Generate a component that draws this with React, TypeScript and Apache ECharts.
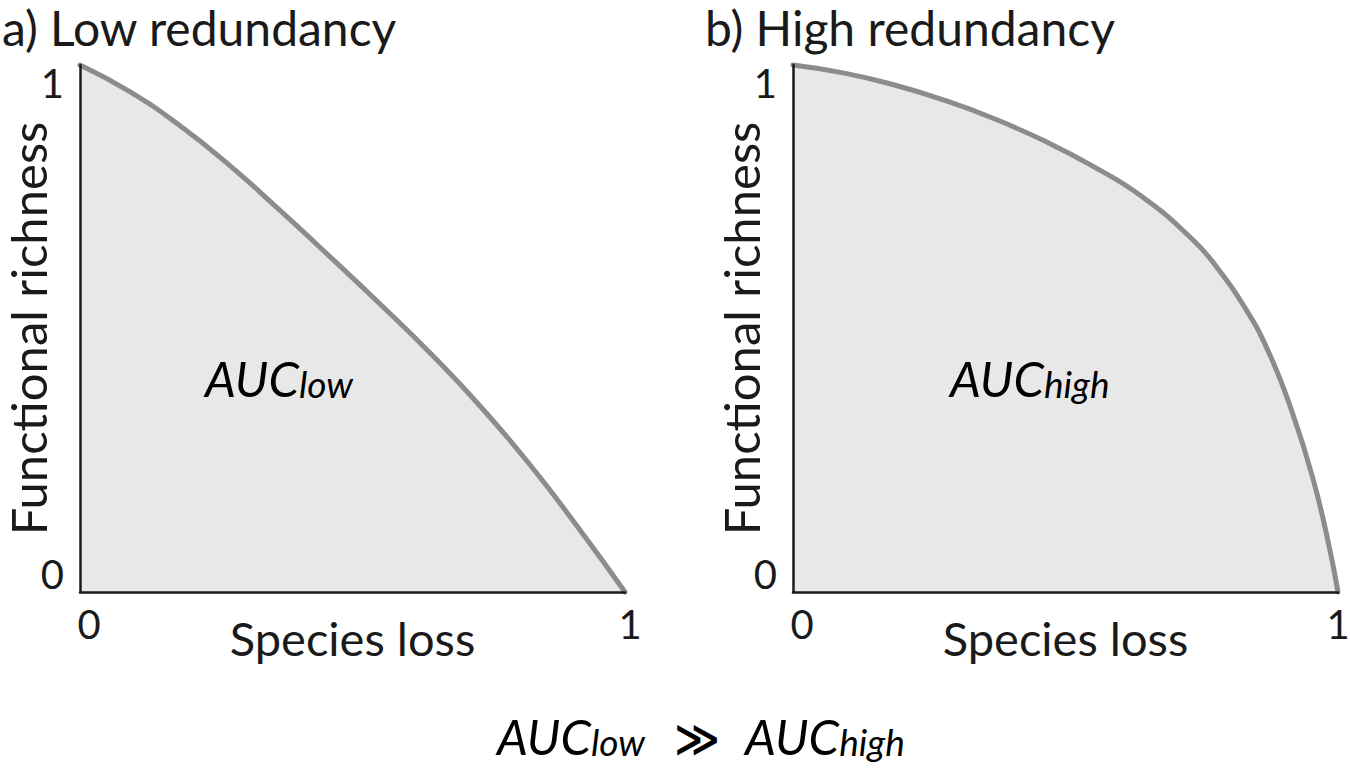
import React, { useEffect, useRef } from "react";
import * as echarts from "echarts";

const lowX = [0, 0.092, 0.183, 0.275, 0.367, 0.459, 0.55, 0.642, 0.734, 0.826, 0.917, 1];
const lowY = [1, 0.949, 0.885, 0.809, 0.724, 0.636, 0.547, 0.454, 0.353, 0.241, 0.118, 0];
const highX = [0, 0.092, 0.183, 0.275, 0.367, 0.459, 0.55, 0.642, 0.734, 0.78, 0.826, 0.872, 0.917, 0.954, 0.982, 1];
const highY = [1, 0.985, 0.963, 0.934, 0.899, 0.857, 0.808, 0.749, 0.668, 0.613, 0.545, 0.457, 0.338, 0.215, 0.095, 0];
const xTicks = ["0", "1"];
const yTicks = ["0", "1"];
const titles = ["a) Low redundancy", "b) High redundancy"];
const xName = "Species loss";
const yName = "Functional richness";
const aucLabels = ["low", "high"];

const FONT = "Lato, 'Open Sans', sans-serif";
const INK = "#1a1a1a";

export default function App() {
  const ref = useRef<HTMLDivElement>(null);
  useEffect(() => {
    if (!ref.current) return;
    const chart = echarts.init(ref.current, undefined, { renderer: "svg" });
    const grids = [
      { left: 80, top: 65, width: 545, height: 527, containLabel: false, outerBoundsMode: "none" },
      { left: 793, top: 65, width: 545, height: 527, containLabel: false, outerBoundsMode: "none" },
    ];
    const xAxes = grids.map((_, i) => ({
      type: "value",
      gridIndex: i,
      min: 0,
      max: 1,
      interval: 1,
      z: 5,
      name: xName,
      nameLocation: "middle",
      nameGap: 22,
      nameMoveOverlap: false,
      nameTextStyle: { fontFamily: FONT, fontSize: 47, color: INK, verticalAlign: "top" },
      axisLine: { show: true, lineStyle: { color: INK, width: 2.5 } },
      axisTick: { show: false },
      splitLine: { show: false },
      axisLabel: {
        fontFamily: FONT,
        fontSize: 40,
        color: INK,
        margin: 12,
        formatter: (v: number) => (v === 0 ? "{z|" + xTicks[0] + "}" : "{o|" + xTicks[1] + "}"),
        rich: {
          z: { fontFamily: FONT, fontSize: 40, color: INK, padding: [0, 0, 0, 18] },
          o: { fontFamily: FONT, fontSize: 40, color: INK, padding: [0, 0, 0, i === 0 ? 10 : 0] },
        },
      },
    }));
    const yAxes = grids.map((_, i) => ({
      type: "value",
      gridIndex: i,
      min: 0,
      max: 1,
      interval: 1,
      z: 5,
      name: yName,
      nameLocation: "middle",
      nameGap: 28,
      nameMoveOverlap: false,
      nameTextStyle: { fontFamily: FONT, fontSize: 49, color: INK },
      axisLine: { show: true, lineStyle: { color: INK, width: 2.5 } },
      axisTick: { show: false },
      splitLine: { show: false },
      axisLabel: {
        fontFamily: FONT,
        fontSize: 40,
        color: INK,
        margin: 16,
        formatter: (v: number) => (v === 1 ? "{t|" + yTicks[1] + "}" : "{b|" + yTicks[0] + "}"),
        rich: {
          t: { fontFamily: FONT, fontSize: 40, color: INK, padding: [36, 0, 0, 0] },
          b: { fontFamily: FONT, fontSize: 40, color: INK, padding: [0, 0, 36, 0] },
        },
      },
    }));
    const mkSeries = (xs: number[], ys: number[], i: number) => ({
      type: "line",
      xAxisIndex: i,
      yAxisIndex: i,
      data: xs.map((x, k) => [x, ys[k]]),
      smooth: 0.5,
      showSymbol: false,
      clip: false,
      lineStyle: { color: "#8c8c8c", width: 5, cap: "round" },
      areaStyle: { color: "#e8e8e8", opacity: 1 },
    });
    const richAuc = {
      a: { fontFamily: FONT, fontStyle: "italic", fontSize: 49, lineHeight: 48, color: INK, verticalAlign: "bottom" },
      s: { fontFamily: FONT, fontStyle: "italic", fontSize: 37, lineHeight: 16, color: INK, verticalAlign: "bottom" },
      g: { fontFamily: "DejaVu Sans", fontWeight: "bold", fontSize: 44, lineHeight: 48, color: INK, verticalAlign: "bottom", padding: [0, 25, 0, 29] },
    };
    chart.setOption({
      animation: false,
      backgroundColor: "#ffffff",
      grid: grids,
      xAxis: xAxes,
      yAxis: yAxes,
      series: [mkSeries(lowX, lowY, 0), mkSeries(highX, highY, 1)],
      graphic: [
        { type: "text", left: 2, top: 2, z: 10, style: { text: titles[0], fontFamily: FONT, fontSize: 48, lineHeight: 50, fill: INK } },
        { type: "text", left: 705, top: 2, z: 10, style: { text: titles[1], fontFamily: FONT, fontSize: 48, lineHeight: 50, fill: INK } },
        { type: "text", x: 205, y: 378, z: 10, style: { text: "{a|AUC}{s|" + aucLabels[0] + "}", rich: richAuc, verticalAlign: "middle" } },
        { type: "text", x: 950, y: 378, z: 10, style: { text: "{a|AUC}{s|" + aucLabels[1] + "}", rich: richAuc, verticalAlign: "middle" } },
        {
          type: "text",
          x: 497,
          y: 736,
          z: 10,
          style: {
            text: "{a|AUC}{s|" + aucLabels[0] + "}{g|≫}{a|AUC}{s|" + aucLabels[1] + "}",
            verticalAlign: "middle",
            rich: richAuc,
          },
        },
      ],
    });
    return () => chart.dispose();
  }, []);
  return <div ref={ref} style={{ position: "fixed", left: 0, top: 0, width: 1350, height: 774 }} />;
}
